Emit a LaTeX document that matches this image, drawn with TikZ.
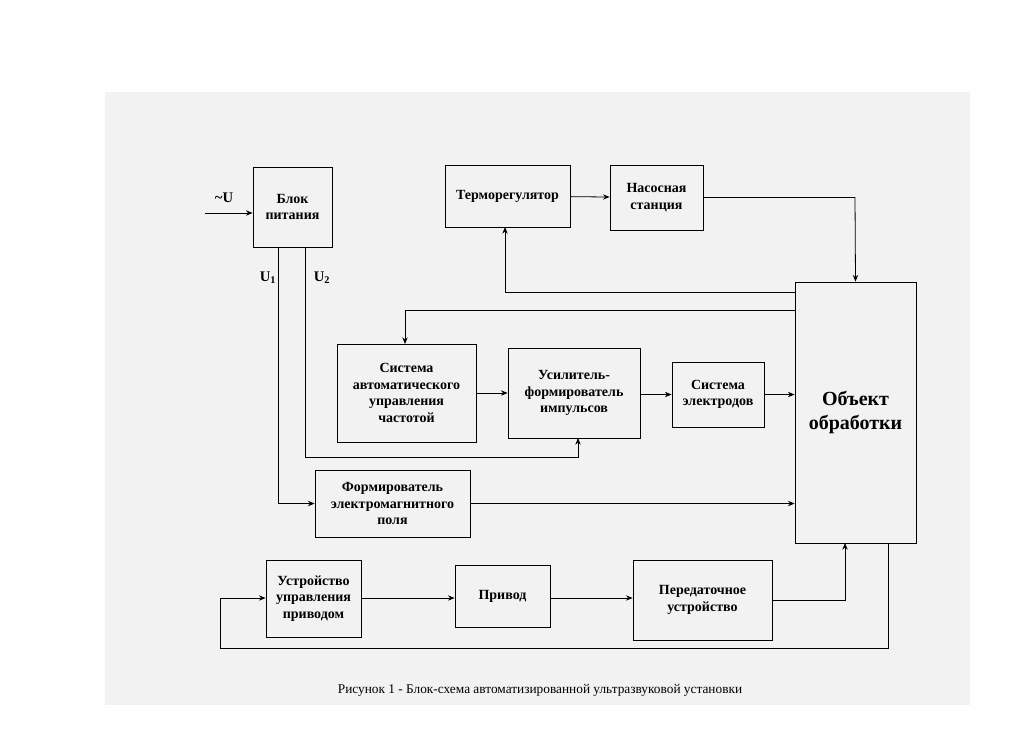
\documentclass[tikz,border=0pt]{standalone}
\usepackage{fontspec}
\setmainfont{Liberation Serif}
\usetikzlibrary{arrows.meta}
\begin{document}
\begin{tikzpicture}[x=0.75pt,y=-0.75pt,
  blk/.style={draw,semithick,align=center,font=\bfseries\fontsize{10.5}{12.5}\selectfont,inner sep=0pt},
  ar/.style={-{Stealth[length=5pt,width=4pt]},semithick},
  ln/.style={semithick}]
\useasboundingbox (0,0) rectangle (1024,743);
\fill[black!5] (105,92) rectangle (970,705);
\node[blk,minimum width=79*0.75pt,minimum height=80*0.75pt] (bp) at (292.5,207) {Блок\\питания};
\node[blk,minimum width=125*0.75pt,minimum height=62*0.75pt] (tr) at (507.5,196) {Терморегулятор};
\node[blk,minimum width=93*0.75pt,minimum height=65*0.75pt] (ns) at (656.5,197.5) {Насосная\\станция};
\node[blk,minimum width=121*0.75pt,minimum height=261*0.75pt,font=\bfseries\fontsize{15}{18}\selectfont] (ob) at (855.5,412.5) {Объект\\обработки};
\node[blk,minimum width=139*0.75pt,minimum height=98*0.75pt] (sa) at (406.5,393) {Система\\автоматического\\управления\\частотой};
\node[blk,minimum width=132*0.75pt,minimum height=90*0.75pt] (uf) at (574,393) {Усилитель-\\формирователь\\импульсов};
\node[blk,minimum width=92*0.75pt,minimum height=65*0.75pt] (se) at (718,394.5) {Система\\электродов};
\node[blk,minimum width=155*0.75pt,minimum height=67*0.75pt] (fe) at (392.5,503.5) {Формирователь\\электромагнитного\\поля};
\node[blk,minimum width=95*0.75pt,minimum height=77*0.75pt] (uu) at (313.5,598.5) {Устройство\\управления\\приводом};
\node[blk,minimum width=95*0.75pt,minimum height=62*0.75pt] (pr) at (502.5,596) {Привод};
\node[blk,minimum width=139*0.75pt,minimum height=80*0.75pt] (pu) at (702.5,600) {Передаточное\\устройство};
\node[font=\bfseries\fontsize{11}{13}\selectfont] (u) at (224,198) {\textasciitilde U};
\coordinate (uin) at (205,213);
\draw[ar] (uin) -- (bp.west |- uin);
\node[font=\bfseries\fontsize{11}{13}\selectfont] (u1) at (268,278) {U$_{\mathbf 1}$};
\node[font=\bfseries\fontsize{11}{13}\selectfont] (u2) at (322,278) {U$_{\mathbf 2}$};
\node[font=\fontsize{10}{12}\selectfont] (cap) at (540,690) {Рисунок 1 - Блок-схема автоматизированной ультразвуковой установки};
\draw[ar] (tr) -- (ns);
\draw[ar] (ns.east) -- (855,197.5) -- (ob.north);
\draw[ar] (ob.west |- 0,292) -- (505,292) -- (505,227);
\draw[ar] (ob.west |- 0,310) -- (405,310) -- (405,344);
\draw[ar] (sa.east |- 0,393) -- (uf.west |- 0,393);
\draw[ar] (uf.east |- 0,394.5) -- (se.west);
\draw[ar] (se.east) -- (ob.west |- se.east);
\draw[ar] (305,247) -- (305,457) -- (578,457) -- (578,438);
\draw[ar] (278,247) -- (278,503.5) -- (fe.west);
\draw[ar] (fe.east) -- (ob.west |- fe.east);
\draw[ar] (uu.east |- 0,598) -- (pr.west |- 0,598);
\draw[ar] (pr.east |- 0,598) -- (pu.west |- 0,598);
\draw[ar] (pu.east |- 0,600) -- (845,600) -- (845,543);
\draw[ar] (888,543) -- (888,648) -- (220,648) -- (220,598) -- (uu.west |- 0,598);
\end{tikzpicture}
\end{document}
